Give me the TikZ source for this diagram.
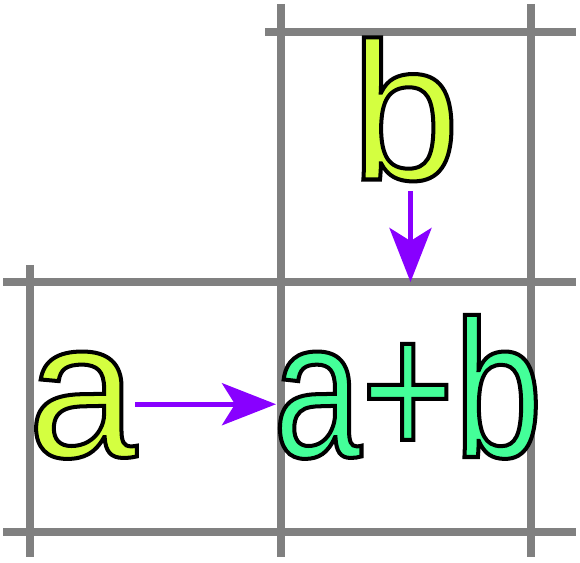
\documentclass[tikz,border=0pt]{standalone}
\usepackage{fontspec}
\usetikzlibrary{arrows.meta}
\newfontfamily\glyphfont{Liberation Sans}
\newfontfamily\narrowglyphfont[FakeStretch=0.81]{Liberation Sans}
\definecolor{termlime}{HTML}{D4FF40}
\definecolor{sumgreen}{HTML}{44FF99}
\definecolor{arrowpurple}{HTML}{8800FF}
\definecolor{gridgray}{HTML}{808080}
% black outline round the glyphs (fill and stroke, render mode 2)
\newcommand{\outlined}[2]{{\color{#1}\special{pdf:literal direct 2 Tr 0 G 4 w}#2\special{pdf:literal direct 0 Tr}}}
\tikzset{
  gridline/.style={gridgray, line width=8pt},
  term/.style={inner sep=0pt, anchor=base west, font=\glyphfont\fontsize{196}{196}\selectfont},
  sumterm/.style={term, font=\narrowglyphfont\fontsize{196}{196}\selectfont},
  carry/.style={arrowpurple, line width=5pt, -{Stealth[length=54pt, width=42pt, inset=13pt]}}
}

\begin{document}
\begin{tikzpicture}[x=1pt, y=1pt]
\useasboundingbox (0,0) rectangle (580,562);
% grid
\draw[gridline] (265,530) -- (576,530);
\draw[gridline] (3,280) -- (576,280);
\draw[gridline] (3,30) -- (576,30);
\draw[gridline] (30,297) -- (30,5);
\draw[gridline] (281,558) -- (281,5);
\draw[gridline] (531,558) -- (531,5);

% terms
\node[term] (b) at (350.5,382.5) {\outlined{termlime}{b}};
\node[term] (a) at (27.6,105) {\outlined{termlime}{a}};
\node[sumterm] (ab) at (273,105) {\outlined{sumgreen}{a+b}};
\coordinate (bhit) at (410.5,280);

\draw[carry] ([xshift=-1.6pt,yshift=1pt]a.east) -- ([xshift=3pt,yshift=1pt]ab.west |- a.east);
\draw[carry] (bhit |- b.south) ++(0,-9.7) -- (bhit);
\end{tikzpicture}
\end{document}
